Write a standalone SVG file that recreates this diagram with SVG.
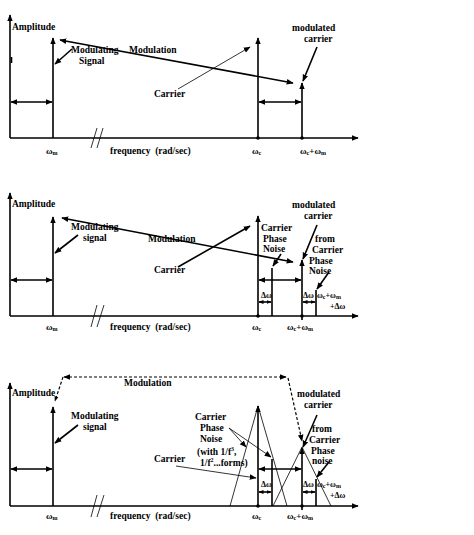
<svg xmlns="http://www.w3.org/2000/svg" width="474" height="535" viewBox="0 0 474 535">
<style>
text{font-family:"Liberation Serif","Times New Roman",serif;font-weight:bold;font-size:9.5px;fill:#000}
.s{font-size:8px}
.w{font-size:9px}
.sub{font-size:6px}
.ln{stroke:#000;stroke-width:1.6;fill:none}
.th{stroke:#000;stroke-width:0.8;fill:none}
.ds{stroke:#000;stroke-width:1.2;fill:none;stroke-dasharray:3,2}
</style>
<defs>
<marker id="ah" viewBox="0 0 10 10" refX="9" refY="5" markerWidth="7" markerHeight="7" markerUnits="userSpaceOnUse" orient="auto-start-reverse"><path d="M0,1 L10,5 L0,9 z" fill="#000"/></marker>
<marker id="as" viewBox="0 0 10 10" refX="9" refY="5" markerWidth="5" markerHeight="5" markerUnits="userSpaceOnUse" orient="auto-start-reverse"><path d="M0,1 L10,5 L0,9 z" fill="#000"/></marker>
</defs>

<!-- Panel 1 -->
<g id="panel1-connectors">
<path class="ln" d="M10,138 V15" marker-end="url(#ah)"/>
<path class="ln" d="M10,138 H358" marker-end="url(#ah)"/>
<path class="ln" d="M11.5,57 V63"/>
<path class="ln" d="M53,138 V38" marker-end="url(#ah)"/>
<path class="ln" d="M11,102 H52" marker-start="url(#ah)" marker-end="url(#ah)"/>
<path class="ln" d="M72,49 L55,64" marker-end="url(#ah)"/>
<path class="ln" d="M60,40 L293,83" marker-start="url(#ah)" marker-end="url(#ah)"/>
<path class="th" d="M178,89 L250,47" marker-end="url(#ah)"/>
<path class="ln" d="M258,138 V38" marker-end="url(#ah)"/>
<path class="ln" d="M302,138 V83" marker-end="url(#ah)"/>
<path class="ln" d="M259,102 H301" marker-start="url(#ah)" marker-end="url(#ah)"/>
<path class="ln" d="M317,47 L303,81" marker-end="url(#ah)"/>
<path class="th" d="M91,148 L97,128 M97,148 L103,128"/>
<circle cx="258" cy="138" r="1.8"/><circle cx="302" cy="138" r="1.8"/>
</g>
<g id="panel1-labels">
<text x="12" y="30">Amplitude</text>
<text x="71" y="53">Modulating</text>
<text x="79" y="64">Signal</text>
<text x="129" y="53">Modulation</text>
<text x="154" y="97">Carrier</text>
<text x="292" y="31">modulated</text>
<text x="304" y="42">carrier</text>
<text x="46" y="154" class="w">ω<tspan class="sub" dy="1">m</tspan></text>
<text x="110" y="154" xml:space="preserve">frequency  (rad/sec)</text>
<text x="252" y="154" class="w">ω<tspan class="sub" dy="1">c</tspan></text>
<text x="300" y="154" class="w">ω<tspan class="sub" dy="1">c</tspan><tspan dy="-1">+ω</tspan><tspan class="sub" dy="1">m</tspan></text>
</g>

<!-- Panel 2 -->
<g id="panel2-connectors">
<path class="ln" d="M10,316 V193" marker-end="url(#ah)"/>
<path class="ln" d="M10,316 H358" marker-end="url(#ah)"/>
<path class="ln" d="M53,316 V217" marker-end="url(#ah)"/>
<path class="ln" d="M11,280 H52" marker-start="url(#ah)" marker-end="url(#ah)"/>
<path class="ln" d="M78,235 L55,253" marker-end="url(#ah)"/>
<path class="ln" d="M62,218 L293,262" marker-start="url(#ah)" marker-end="url(#ah)"/>
<path class="ln" d="M178,267 L250,226" marker-end="url(#ah)"/>
<path class="ln" d="M258,316 V216" marker-end="url(#ah)"/>
<path class="ln" d="M272,316 V268"/>
<path class="ln" d="M281,254 L273,266" marker-end="url(#ah)"/>
<path class="ln" d="M302,320 V260" marker-end="url(#ah)"/>
<path class="ln" d="M317,225 L303,259" marker-end="url(#ah)"/>
<path class="ln" d="M259,280 H301" marker-start="url(#ah)" marker-end="url(#ah)"/>
<path class="ln" d="M316,316 V290"/>
<path class="ln" d="M329,272 L317,289" marker-end="url(#ah)"/>
<path class="ln" d="M259,302 H271" marker-start="url(#as)" marker-end="url(#as)"/>
<path class="ln" d="M303,302 H315" marker-start="url(#as)" marker-end="url(#as)"/>
<path class="th" d="M91,327 L97,305 M97,327 L104,305"/>
<circle cx="258" cy="316" r="1.8"/><circle cx="302" cy="316" r="1.8"/>
</g>
<g id="panel2-labels">
<text x="12" y="207">Amplitude</text>
<text x="71" y="230">Modulating</text>
<text x="83" y="241">signal</text>
<text x="148" y="242">Modulation</text>
<text x="154" y="273">Carrier</text>
<text x="261" y="231">Carrier</text>
<text x="263" y="242">Phase</text>
<text x="263" y="252">Noise</text>
<text x="292" y="208">modulated</text>
<text x="304" y="219">carrier</text>
<text x="315" y="242">from</text>
<text x="312" y="253">Carrier</text>
<text x="309" y="264">Phase</text>
<text x="309" y="274">Noise</text>
<text x="261" y="298" class="s">Δω</text>
<text x="303" y="298" class="s">Δω</text>
<text x="317" y="298" class="s">ω<tspan class="sub" dy="1">c</tspan><tspan dy="-1">+ω</tspan><tspan class="sub" dy="1">m</tspan></text>
<text x="330" y="309" class="s">+Δω</text>
<text x="46" y="330" class="w">ω<tspan class="sub" dy="1">m</tspan></text>
<text x="110" y="330" xml:space="preserve">frequency  (rad/sec)</text>
<text x="252" y="330" class="w">ω<tspan class="sub" dy="1">c</tspan></text>
<text x="287" y="330" class="w">ω<tspan class="sub" dy="1">c</tspan><tspan dy="-1">+ω</tspan><tspan class="sub" dy="1">m</tspan></text>
</g>

<!-- Panel 3 -->
<g id="panel3-connectors">
<path class="ln" d="M10,506 V383" marker-end="url(#ah)"/>
<path class="ln" d="M10,506 H358" marker-end="url(#ah)"/>
<path class="ln" d="M53,506 V407" marker-end="url(#ah)"/>
<path class="ds" d="M63,377 L55,401" marker-end="url(#as)"/>
<path class="ds" d="M64,377 H286" marker-start="url(#ah)" marker-end="url(#ah)"/>
<path class="ds" d="M288,378 L302,441" marker-end="url(#ah)"/>
<path class="ln" d="M11,469 H52" marker-start="url(#ah)" marker-end="url(#ah)"/>
<path class="ln" d="M78,425 L55,443" marker-end="url(#ah)"/>
<path class="th" d="M230,506 L258,406 L287,506"/>
<path class="th" d="M273,506 L302,447 L331,506"/>
<path class="ln" d="M258,506 V406" marker-end="url(#ah)"/>
<path class="ln" d="M272,506 V459"/>
<path class="ln" d="M302,510 V448" marker-end="url(#ah)"/>
<path class="ln" d="M316,506 V479"/>
<path class="ln" d="M259,469 H301" marker-start="url(#ah)" marker-end="url(#ah)"/>
<path class="ln" d="M259,492 H271" marker-start="url(#as)" marker-end="url(#as)"/>
<path class="ln" d="M303,492 H315" marker-start="url(#as)" marker-end="url(#as)"/>
<path class="th" d="M176,466 L256,478" marker-end="url(#ah)"/>
<path class="th" d="M229,428 L246,447" marker-end="url(#ah)"/>
<path class="th" d="M229,428 L271,457" marker-end="url(#ah)"/>
<path class="ln" d="M317,415 L303,447" marker-end="url(#ah)"/>
<path class="ln" d="M329,462 L317,477" marker-end="url(#ah)"/>
<path class="th" d="M91,517 L97,495 M97,517 L104,495"/>
<circle cx="258" cy="506" r="1.8"/><circle cx="302" cy="506" r="1.8"/>
</g>
<g id="panel3-labels">
<text x="12" y="396">Amplitude</text>
<text x="124" y="386">Modulation</text>
<text x="71" y="419">Modulating</text>
<text x="83" y="430">signal</text>
<text x="154" y="462">Carrier</text>
<text x="195" y="420">Carrier</text>
<text x="200" y="431">Phase</text>
<text x="200" y="442">Noise</text>
<text x="197" y="455">(with 1/f<tspan class="sub" dy="-4">3</tspan><tspan dy="4">,</tspan></text>
<text x="200" y="466">1/f<tspan class="sub" dy="-4">2</tspan><tspan dy="4">...forms)</tspan></text>
<text x="297" y="397">modulated</text>
<text x="304" y="408">carrier</text>
<text x="312" y="432">from</text>
<text x="309" y="443">Carrier</text>
<text x="311" y="454">Phase</text>
<text x="312" y="464">noise</text>
<text x="261" y="487" class="s">Δω</text>
<text x="303" y="487" class="s">Δω</text>
<text x="317" y="487" class="s">ω<tspan class="sub" dy="1">c</tspan><tspan dy="-1">+ω</tspan><tspan class="sub" dy="1">m</tspan></text>
<text x="330" y="498" class="s">+Δω</text>
<text x="46" y="519" class="w">ω<tspan class="sub" dy="1">m</tspan></text>
<text x="110" y="519" xml:space="preserve">frequency  (rad/sec)</text>
<text x="252" y="519" class="w">ω<tspan class="sub" dy="1">c</tspan></text>
<text x="287" y="519" class="w">ω<tspan class="sub" dy="1">c</tspan><tspan dy="-1">+ω</tspan><tspan class="sub" dy="1">m</tspan></text>
</g>
</svg>
